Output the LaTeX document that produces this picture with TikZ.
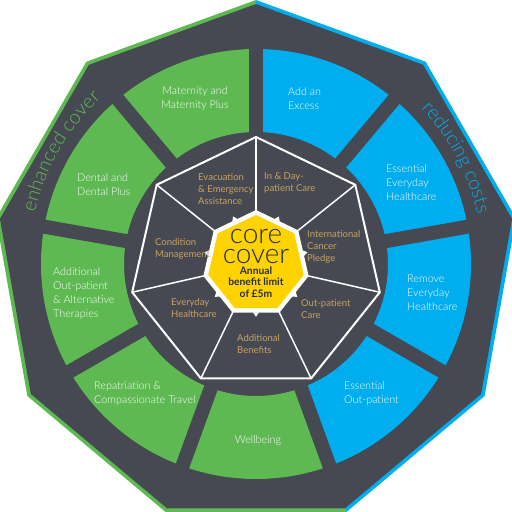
\documentclass[tikz,border=0pt]{standalone}
\usepackage{fontspec}
\setmainfont{Lato}
\newfontfamily\lightf{Lato Light}
\usetikzlibrary{decorations.text}
\definecolor{dk}{RGB}{70,73,81}
\definecolor{gr}{RGB}{94,185,82}
\definecolor{bl}{RGB}{0,174,239}
\definecolor{yl}{RGB}{255,211,0}
\definecolor{tanc}{RGB}{201,162,96}
\definecolor{navy}{RGB}{40,44,70}
\tikzset{
  seg/.style={text=white, font=\lightf\fontsize{10.8}{14}\selectfont, align=left, inner sep=0pt, anchor=west},
  inn/.style={text=tanc, font=\fontsize{9.5}{12}\selectfont, align=left, inner sep=0pt, anchor=west},
  gapline/.style={dk, line width=14pt},
  spoke/.style={white, line width=1.5pt}
}
\begin{document}
\begin{tikzpicture}[x=1pt,y=1pt]
\useasboundingbox (0,0) rectangle (512,512);
\begin{scope}[shift={(256,248)}]
  % coloured rim
  \fill[gr] (0,0) -- (90:264) -- (130:264) -- (170:264) -- (210:264) -- (250:264) -- (290:264) -- cycle;
  \fill[bl] (0,0) -- (290:264) -- (330:264) -- (10:264) -- (50:264) -- (90:264) -- cycle;
  % dark nonagon
  \fill[dk] (90:260) \foreach \a in {130,170,...,410} {-- (\a:260)} -- cycle;
  % sectors
  \foreach \a/\c in {110/gr,150/gr,190/gr,230/gr,270/gr,70/bl,30/bl,-10/bl,-50/bl}
    \fill[\c] ({\a-20}:132) arc[start angle={\a-20}, end angle={\a+20}, radius=132]
      -- ({\a+20}:215) arc[start angle={\a+20}, end angle={\a-20}, radius=215] -- cycle;
  % gaps
  \foreach \a in {90,50,...,-230}
    \draw[gapline] (\a:120) -- (\a:225);
  % inner heptagon
  \draw[white, line width=2pt, fill=dk] (90:127) \foreach \k in {1,...,6} {-- ({90+\k*360/7}:127)} -- cycle;
  \foreach \k in {0,...,6}
    \draw[spoke] ({90+\k*360/7}:127) -- ({90+\k*360/7}:53);
  % core heptagon
  \fill[white] (90:54) \foreach \k in {1,...,6} {-- ({90+\k*360/7}:54)} -- cycle;
  \fill[yl] (90:49) \foreach \k in {1,...,6} {-- ({90+\k*360/7}:49)} -- cycle;
  \foreach \k in {0,...,6}
    \fill[white, rotate={90+360/14+\k*360/7}] (48.3,-3) -- (52.8,0) -- (48.3,3) -- cycle;
  % curved titles
  \path[decorate, decoration={text along path, text align=center,
      text={|\lightf\fontsize{19.5}{19.5}\selectfont\color{gr}|enhanced cover}}]
    (175:227) arc[start angle=175, end angle=125, radius=227];
  \path[decorate, decoration={text along path, text align=center,
      text={|\lightf\fontsize{19.5}{19.5}\selectfont\color{bl}|reducing costs}}]
    (53:227) arc[start angle=53, end angle=3, radius=227];
\end{scope}
% outer labels
\node[seg, align=center, anchor=center] (mat) at (195,413) {Maternity and\\Maternity Plus};
\node[seg] (exc) at (288,413) {Add an\\Excess};
\node[seg] (eeh) at (386,329) {Essential\\Everyday\\Healthcare};
\node[seg] (reh) at (407,219.5) {Remove\\Everyday\\Healthcare};
\node[seg] (eop) at (344,118) {Essential\\Out-patient};
\node[seg, anchor=center] (wel) at (258,71) {Wellbeing};
\node[seg] (rep) at (94,118) {Repatriation \&\\Compassionate Travel};
\node[seg] (aop) at (53,218) {Additional\\Out-patient\\\& Alternative\\Therapies};
\node[seg] (den) at (77,327) {Dental and\\Dental Plus};
% inner labels
\node[inn] (eva) at (198,323) {Evacuation\\\& Emergency\\Assistance};
\node[inn] (ind) at (264,329) {In \& Day-\\patient Care};
\node[inn] (icp) at (307,265) {International\\Cancer\\Pledge};
\node[inn] (opc) at (301,203) {Out-patient\\Care};
\node[inn] (adb) at (237,168) {Additional\\Benefits};
\node[inn] (evh) at (171,203.5) {Everyday\\Healthcare};
\node[inn] (cm) at (155,263) {Condition\\Management};
% core
\node[text=navy, font=\lightf\fontsize{28}{20}\selectfont, align=center, inner sep=0pt] (core) at (256,265) {core\\cover};
\node[text=navy, font=\bfseries\fontsize{10.3}{11.5}\selectfont, align=center, inner sep=0pt] (ann) at (256,230) {Annual\\benefit limit\\of £5m};
\end{tikzpicture}
\end{document}
